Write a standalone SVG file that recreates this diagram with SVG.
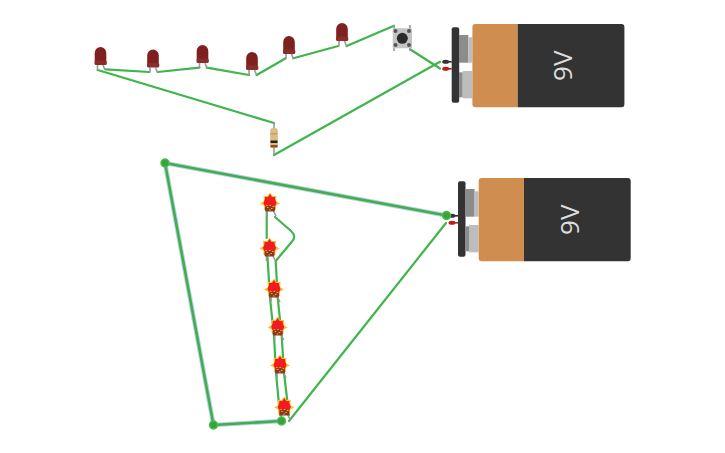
<svg xmlns="http://www.w3.org/2000/svg" width="725" height="453" viewBox="0 0 725 453">
<style>
.w{fill:none;stroke:#3fb54a;stroke-width:2.200;stroke-linecap:round;stroke-linejoin:round}
.h{fill:none;stroke:#b4d2f0;stroke-width:4.600;stroke-linecap:round;stroke-linejoin:round}
.t{fill:none;stroke:#45ad45;stroke-width:2.600;stroke-linecap:round;stroke-linejoin:round}
.l{fill:none;stroke:#999;stroke-width:1.600}
.n{fill:#35a53a;stroke:#4cbb4f;stroke-width:1.500}
.lbl{font-family:"Open Sans","DejaVu Sans",sans-serif;font-size:26px;fill:#ddd}
</style>
<defs>
<g id="led">
<path class="l" d="M-3 18V23M2.500 18L4.500 23"/>
<path d="M-5.800 6A5.800 6 0 0 1 5.800 6V15H-5.800Z" fill="#7f2020"/>
<rect x="-6" y="13.500" width="12.300" height="4.500" rx="1.500" fill="#8a2c2c"/>
</g>
<g id="lit">
<path class="l" d="M-3 8V13M3.500 8L6 13"/>
<path d="M-10 0.500L-6 -2L-6.500 -7L-2.500 -7L0 -10.500L2.500 -7L6.500 -7L6 -2L10 0.500L6 2.500L6 7L-6 7L-6 2.500Z" fill="#fdbe2d"/>
<path d="M-6.500 0L-5 -4L-5 -6L-2 -6L0 -9L2 -6L5 -6L5 -4L6.500 0L5 3.500L-5 3.500Z" fill="#f01c20"/>
<rect x="-5" y="3" width="10" height="5.500" rx="1.500" fill="#8a3a22"/>
<path d="M-3 4.500h1.500M1 5.500h1.500M-1 7h1.500M2.500 3.500h1.500M-4 2.500h1.500M-0.500 2.500h1.500" stroke="#e9b02a" stroke-width="1"/>
</g>
<g id="bat">
<rect x="0" y="0" width="7.500" height="75.500" rx="2" fill="#333"/>
<rect x="7.300" y="7.700" width="9.300" height="27.700" fill="#8c8c8c"/>
<rect x="16.600" y="10" width="4" height="25.400" fill="#bdbdbd"/>
<rect x="7.300" y="45" width="3.700" height="25" fill="#8c8c8c"/>
<rect x="11" y="43.700" width="9.600" height="27.300" fill="#bdbdbd"/>
<path d="M23.700 -3.300H66V80H23.700A3 3 0 0 1 20.700 77V-0.300A3 3 0 0 1 23.700 -3.300Z" fill="#d08d50"/>
<path d="M66 -3.300H169.700A3 3 0 0 1 172.700 -0.300V77A3 3 0 0 1 169.700 80H66Z" fill="#333"/>
<path d="M-8 34.500H0" stroke="#222" stroke-width="1.500"/>
<ellipse cx="-6" cy="34.500" rx="3.500" ry="2" fill="#333"/>
<path d="M-8 41.500H0" stroke="#b01818" stroke-width="1.500"/>
<ellipse cx="-6" cy="41.500" rx="3.500" ry="2" fill="#c01c1c"/>
<text class="lbl" transform="translate(110.500 38.500) rotate(-90)" text-anchor="middle" dominant-baseline="central">9V</text>
</g>
</defs>
<g id="connectors">
<path class="w" d="M97.700 70L274 123M105.700 69.300L149.300 72M157.700 72L199.300 67.700M206.700 67.700L249 75M256.700 75L285.700 58.300M293.300 58.300L338.300 46M346.700 46L394 25.700M410 49.300L440 68.500M274 155L440 61.700"/>
<path class="w" d="M266.700 212V238M275 217L290.500 230.500Q297 236 292 241.500L275.700 261M267.500 257L270 298M275.700 261L277.700 298M270 298L274 336M277.700 298L281.700 336M274 336L276 373M281.700 336L284 373M276 373L280 415M284 373L289 415M289 421L446 223"/>
<path class="h" d="M446.500 215.500L165 163L213.500 425L281.500 421"/>
<path class="t" d="M446.500 215.500L165 163L213.500 425L281.500 421"/>
</g>
<g id="led1"><use href="#led" x="100.500" y="47"/></g>
<g id="led2"><use href="#led" x="153" y="49.500"/></g>
<g id="led3"><use href="#led" x="202.500" y="45"/></g>
<g id="led4"><use href="#led" x="252" y="52"/></g>
<g id="led5"><use href="#led" x="289" y="36"/></g>
<g id="led6"><use href="#led" x="342" y="23"/></g>
<g id="switch">
<path class="l" d="M394 25V30M410 25V30M394 47V51M410 47V51"/>
<rect x="392.700" y="28.300" width="19.300" height="20" rx="1" fill="#c4c4c4"/>
<circle cx="402.300" cy="38.300" r="5.500" fill="#2b2b2b"/>
<circle cx="395.500" cy="31" r="2" fill="#555"/><circle cx="409" cy="31" r="2" fill="#555"/>
<circle cx="395.500" cy="45" r="2" fill="#555"/><circle cx="409" cy="45" r="2" fill="#555"/>
</g>
<g id="resistor">
<path d="M274 122V155" stroke="#999" stroke-width="1.600"/>
<rect x="270.200" y="128" width="7.600" height="20" rx="3" fill="#d9bd84"/>
<rect x="270.500" y="133" width="7" height="1.500" fill="#c9a060"/>
<rect x="270.500" y="140.500" width="7" height="2.500" fill="#222"/>
<rect x="270.500" y="145" width="7" height="2.500" fill="#9a4a1c"/>
</g>
<g id="battery1" transform="translate(451.700 27.300)"><use href="#bat"/></g>
<g id="battery2" transform="translate(458 181.300)"><use href="#bat"/></g>
<g id="litled1"><use href="#lit" x="270" y="203"/></g>
<g id="litled2"><use href="#lit" x="269.500" y="248"/></g>
<g id="litled3"><use href="#lit" x="274" y="289"/></g>
<g id="litled4"><use href="#lit" x="277.700" y="327"/></g>
<g id="litled5"><use href="#lit" x="280" y="365"/></g>
<g id="litled6"><use href="#lit" x="284.300" y="407"/></g>
<g id="junctions">
<circle class="n" cx="165" cy="163" r="4"/>
<circle class="n" cx="213.500" cy="425" r="4"/>
<circle class="n" cx="281.500" cy="421" r="4"/>
<circle class="n" cx="446.500" cy="215.500" r="4"/>
</g>
</svg>
